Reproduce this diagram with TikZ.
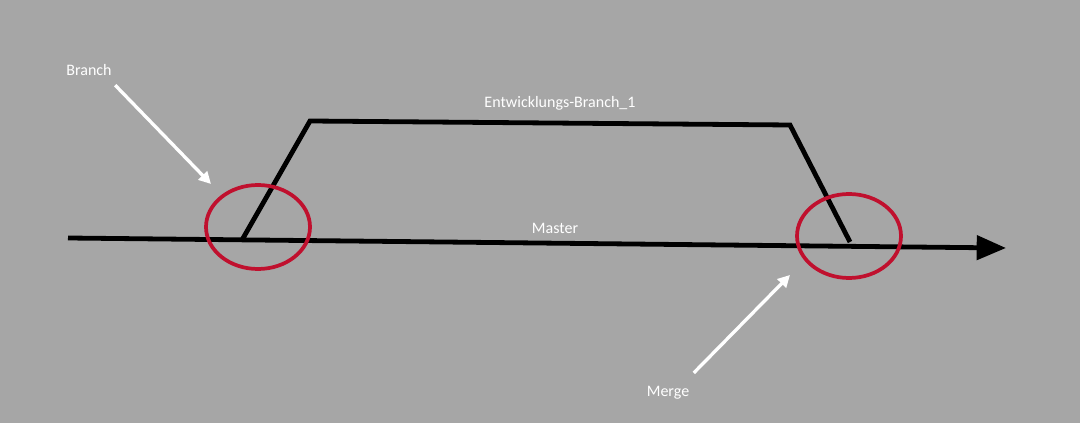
\documentclass[tikz,border=0pt]{standalone}
\usepackage{fontspec}
\setmainfont{Carlito}
\usetikzlibrary{arrows.meta}
\definecolor{bg}{HTML}{A6A6A6}
\definecolor{ring}{HTML}{C0102E}
\tikzset{lbl/.style={text=white,font=\fontsize{12}{14}\selectfont,inner sep=1pt},
 blk/.style={line width=3.6pt,black},
 wht/.style={line width=2.5pt,white,-{Triangle[length=9pt,width=9pt]}},
 rng/.style={line width=2.8pt,ring}}
\begin{document}
\begin{tikzpicture}[x=0.75pt,y=-0.75pt]
\fill[bg] (0,0) rectangle (1080,423);
\useasboundingbox (0,0) rectangle (1080,423);
\coordinate (ms) at (68,238);
\coordinate (me) at (1006,248);
\coordinate (b0) at (242,240);
\coordinate (b1) at (310,121);
\coordinate (b2) at (790,125);
\coordinate (b3) at (850,242);
\draw[blk,-{Triangle[length=22pt,width=18pt]}] (ms) -- (me);
\draw[blk,line join=miter] (b0) -- (b1) -- (b2) -- (b3);
\draw[rng] (258,227) ellipse [x radius=52,y radius=42];
\draw[rng] (849,236) ellipse [x radius=52,y radius=42];
\node[lbl] (br) at (89,70) {Branch};
\node[lbl] (mg) at (668,393) {Merge};
\node[lbl] (ent) at (560,103) {Entwicklungs-Branch\_1};
\node[lbl] (mas) at (555,228) {Master};
\coordinate (bt) at (211,184);
\coordinate (mt) at (790,275);
\draw[wht] (br.south east)+(2,8) -- (bt);
\draw[wht] (mg.north east)+(3,-12) -- (mt);
\end{tikzpicture}
\end{document}
